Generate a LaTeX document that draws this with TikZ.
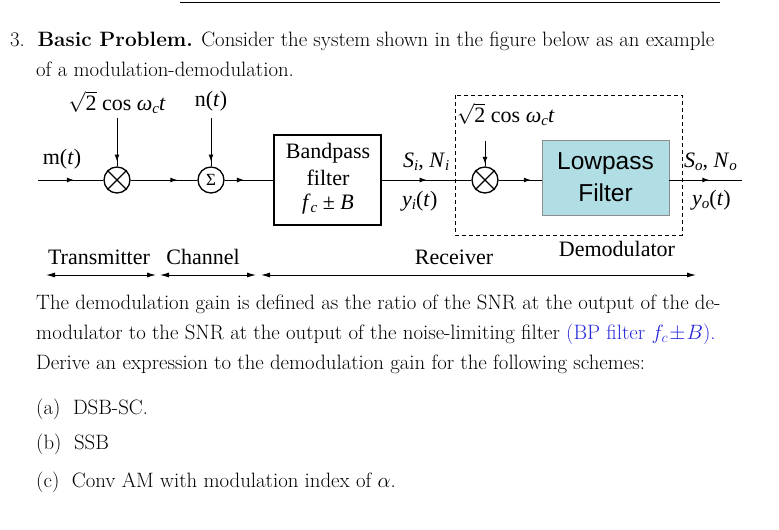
\documentclass[tikz,border=0pt]{standalone}
\usepackage{fontspec}
\usepackage{amsmath}
\usetikzlibrary{decorations.markings,arrows.meta}
\newfontfamily\tms{Liberation Serif}
\newfontfamily\ars{Liberation Sans}
\newcommand{\ti}[1]{\textit{#1}}
\newcommand{\tsb}[1]{\raisebox{-0.3ex}{\fontsize{15}{15}\selectfont\textit{#1}}}
\newcommand{\rtwo}{$\sqrt{\text{\tms 2}}$}
\definecolor{lpf}{RGB}{176,222,228}
\definecolor{lnk}{RGB}{40,40,220}
\begin{document}
\begin{tikzpicture}[x=1pt,y=-1pt,
  txt/.style={inner sep=0,anchor=base west,font=\fontsize{20.8}{24}\selectfont},
  dg/.style={inner sep=0,font=\tms\fontsize{22}{25}\selectfont},
  sig/.style={line width=1pt},
  mid/.style={sig,postaction={decorate},decoration={markings,mark=at position #1 with {\arrow{Latex[length=7pt,width=5pt]}}}},
  mult/.style={circle,draw,line width=1.3pt,minimum size=26pt,inner sep=0},
  span/.style={line width=1pt,{Latex[length=9pt,width=5pt]}-{Latex[length=9pt,width=5pt]}}]
\useasboundingbox (0,0) rectangle (779,530);
\draw[line width=0.6pt] (180,2) -- (720,2);
\node[txt] (h1) at (10,46) {3.\ \ \textbf{Basic Problem.} Consider the system shown in the figure below as an example};
\node[txt] (h2) at (36,76) {of a modulation-demodulation.};
% transmitter
\coordinate (in) at (38,180);
\node[mult] (m1) at (117,180) {};
\draw[line width=1.1pt] (m1.north west) -- (m1.south east) (m1.north east) -- (m1.south west);
\node[dg] (c1) at (117,102) {\rtwo{} cos \ti{ω}\tsb{c}\ti{t}};
\node[dg] (mt) at (62,159) {m(\ti{t})};
\coordinate (c1s) at (117,118);
\draw[mid=0.9] (c1s) -- (m1.north);
\draw[mid=0.55] (in) -- (m1.west);
\node[mult] (s1) at (211,180) {\tms\fontsize{17}{17}\selectfont Σ};
\node[dg] (nt) at (211,101) {n(\ti{t})};
\coordinate (nts) at (211,118);
\draw[mid=0.9] (nts) -- (s1.north);
\draw[mid=0.7] (m1.east) -- (s1.west);
\node[draw,line width=2pt,minimum width=107pt,minimum height=90pt,inner sep=0] (bp) at (327.5,180) {};
\node[dg] (b1) at (328,153) {Bandpass};
\node[dg] (b2) at (328,178) {filter};
\node[dg] (b3) at (328,204) {\ti{f}\tsb{c} ± \ti{B}};
\draw[mid=0.4] (s1.east) -- (bp.west);
% receiver
\node[mult] (m2) at (485,180) {};
\draw[line width=1.1pt] (m2.north west) -- (m2.south east) (m2.north east) -- (m2.south west);
\draw[mid=0.5] (bp.east) -- (m2.west);
\node[dg,anchor=west] (sn) at (403,162) {\ti{S}\tsb{i}, \ti{N}\tsb{i}};
\node[dg,anchor=west] (yi) at (402,201) {\ti{y}\tsb{i}(\ti{t})};
\draw[dashed,line width=0.8pt,dash pattern=on 4pt off 3pt] (455,95) rectangle (682,235);
\node[dg,anchor=west] (c2) at (457,114) {\rtwo{} cos \ti{ω}\tsb{c}\ti{t}};
\coordinate (c2s) at (485,141);
\draw[mid=0.9] (c2s) -- (m2.north);
\node[draw=black!45,fill=lpf,line width=0.8pt,minimum width=127pt,minimum height=75pt,inner sep=0] (lp) at (605.5,178) {};
\node[inner sep=0,font=\ars\fontsize{24.5}{26}\selectfont] (l1) at (605.5,164) {Lowpass};
\node[inner sep=0,font=\ars\fontsize{24.5}{26}\selectfont] (l2) at (605.5,193) {Filter};
\draw[mid=0.75] (m2.east) -- (lp.west |- m2.east);
\coordinate (out) at (742,180);
\draw[mid=0.55] (lp.east |- out) -- (out);
\node[dg,anchor=west] (so) at (684,162) {\ti{S}\tsb{o}, \ti{N}\tsb{o}};
\node[dg,anchor=west] (yo) at (692,200) {\ti{y}\tsb{o}(\ti{t})};
\node[dg] (dem) at (617,249) {Demodulator};
\node[dg] (rec) at (454,257) {Receiver};
\node[dg] (tr) at (99,257) {Transmitter};
\node[dg] (ch) at (203,257) {Channel};
\coordinate (a1) at (46,275); \coordinate (a2) at (156,275);
\coordinate (a3) at (160,275); \coordinate (a4) at (256,275);
\coordinate (a5) at (261,275); \coordinate (a6) at (696,275);
\draw[span] (a1) -- (a2);
\draw[span] (a3) -- (a4);
\draw[span] (a5) -- (a6);
% paragraph
\node[txt] (p1) at (36,309) {The demodulation gain is defined as the ratio of the SNR at the output of the de-};
\node[txt] (p2) at (36,339) {modulator to the SNR at the output of the noise-limiting filter \textcolor{lnk}{(BP filter $f_c\!\pm\!B$).}};
\node[txt] (p3) at (36,369) {Derive an expression to the demodulation gain for the following schemes:};
\node[txt] (q1) at (36,414) {(a)\ \ DSB-SC.};
\node[txt] (q2) at (36,449) {(b)\ \ SSB};
\node[txt] (q3) at (36,487) {(c)\ \ Conv AM with modulation index of $\alpha$.};
\end{tikzpicture}
\end{document}
